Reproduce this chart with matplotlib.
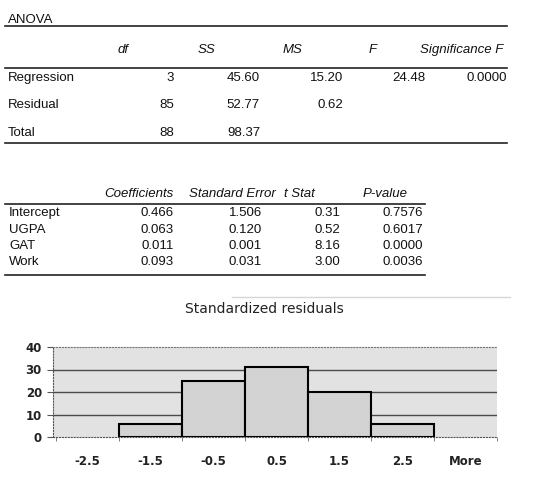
import matplotlib
matplotlib.use("Agg")
import matplotlib.pyplot as plt
import numpy as np

# ANOVA table
anova_cols = ["df", "SS", "MS", "F", "Significance F"]
anova_rows = ["Regression", "Residual", "Total"]
anova_df = ["3", "85", "88"]
anova_ss = ["45.60", "52.77", "98.37"]
anova_ms = ["15.20", "0.62", ""]
anova_f = ["24.48", "", ""]
anova_sig = ["0.0000", "", ""]

# coefficients table
coef_cols = ["Coefficients", "Standard Error", "t Stat", "P-value"]
coef_rows = ["Intercept", "UGPA", "GAT", "Work"]
coef_b = ["0.466", "0.063", "0.011", "0.093"]
coef_se = ["1.506", "0.120", "0.001", "0.031"]
coef_t = ["0.31", "0.52", "8.16", "3.00"]
coef_p = ["0.7576", "0.6017", "0.0000", "0.0036"]

# histogram of standardized residuals
bins = ["-2.5", "-1.5", "-0.5", "0.5", "1.5", "2.5", "More"]
freq = [0, 6, 25, 31, 20, 6, 0]

W, H = 543, 483
fig = plt.figure(figsize=(W / 100, H / 100), dpi=100)
fig.patch.set_facecolor("white")

# pixel-space overlay for the tables
bg = fig.add_axes([0, 0, 1, 1])
bg.set_xlim(0, W)
bg.set_ylim(H, 0)
bg.axis("off")

tfont = dict(family=["Liberation Sans", "DejaVu Sans"], fontsize=9.5, color="#111111")

# --- ANOVA ---
bg.text(8, 20, "ANOVA", va="center", ha="left", **tfont)
for y, lw in [(26, 1.2), (68, 1.2), (143, 1.2)]:
    bg.plot([5, 507], [y, y], color="#222222", lw=lw)

head_x = [(123, "center"), (207, "center"), (293, "center"), (373, "center"), (503, "right")]
for (x, ha), name in zip(head_x, anova_cols):
    bg.text(x, 50, name, va="center", ha=ha, style="italic", **tfont)

row_y = [78, 105, 133]
col_right = [174, 260, 343, 425, 507]
for i, label in enumerate(anova_rows):
    bg.text(8, row_y[i], label, va="center", ha="left", **tfont)
    vals = [anova_df[i], anova_ss[i], anova_ms[i], anova_f[i], anova_sig[i]]
    for x, v in zip(col_right, vals):
        bg.text(x, row_y[i], v, va="center", ha="right", **tfont)

# --- coefficients ---
for y in [204, 275]:
    bg.plot([5, 425], [y, y], color="#222222", lw=1.2)
chead = [(174, "right"), (276, "right"), (284, "left"), (385, "center")]
for (x, ha), name in zip(chead, coef_cols):
    bg.text(x, 194, name, va="center", ha=ha, style="italic", **tfont)
crow_y = [213, 230, 246, 262]
ccol_right = [174, 262, 340, 423]
for i, label in enumerate(coef_rows):
    bg.text(9, crow_y[i], label, va="center", ha="left", **tfont)
    for x, v in zip(ccol_right, [coef_b[i], coef_se[i], coef_t[i], coef_p[i]]):
        bg.text(x, crow_y[i], v, va="center", ha="right", **tfont)

# chart frame hint + title
bg.plot([232, 510], [297, 297], color="#d6d6d6", lw=1)
bg.text(264, 309, "Standardized residuals", va="center", ha="center",
        fontsize=10, color="#222222", family="DejaVu Sans")

# --- histogram ---
left, right, top, bottom = 53, 497, 347, 437
ax = fig.add_axes([left / W, (H - bottom) / H, (right - left) / W, (bottom - top) / H])
ax.set_facecolor("#e2e2e2")
x = np.arange(len(bins))
edge = ["black" if f > 0 else "none" for f in freq]
ax.bar(x, freq, width=1.0, color="#d3d3d3", edgecolor=edge, linewidth=1.5, zorder=3)
ax.set_xlim(-0.55, 6.5)
ax.set_ylim(0, 40)
ax.set_yticks([0, 10, 20, 30, 40])
for g in [10, 20, 30]:
    ax.axhline(g, color="#4a4a4a", lw=1.0, zorder=2)
ax.set_xticks(x)
ax.set_xticklabels(bins)
ax.set_xticks(np.arange(-0.5, 6.6, 1.0), minor=True)
ax.tick_params(axis="x", which="major", length=0, pad=13, labelsize=8.5, labelcolor="#222222")
ax.tick_params(axis="x", which="minor", length=3, color="#666666", direction="out")
ax.tick_params(axis="y", length=4, color="#555555", pad=4, labelsize=8.5, labelcolor="#222222")
for lab in ax.get_xticklabels() + ax.get_yticklabels():
    lab.set_fontweight("bold")
ax.spines["right"].set_visible(False)
ax.spines["top"].set_linestyle(":")
ax.spines["top"].set_color("#777777")
ax.spines["left"].set_linestyle(":")
ax.spines["left"].set_color("#555555")
ax.spines["bottom"].set_linestyle(":")
ax.spines["bottom"].set_color("#555555")

fig.savefig("out.png", dpi=100, facecolor="white")
